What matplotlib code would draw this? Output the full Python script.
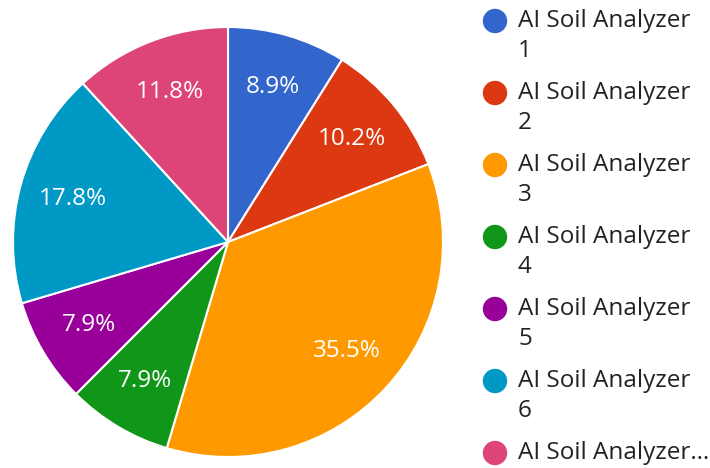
import matplotlib
matplotlib.use("Agg")
import matplotlib.pyplot as plt
from matplotlib.patches import Circle

plt.rcParams['font.family'] = ['Open Sans', 'DejaVu Sans']

# Chart data
labels = ['AI Soil Analyzer 1', 'AI Soil Analyzer 2', 'AI Soil Analyzer 3',
          'AI Soil Analyzer 4', 'AI Soil Analyzer 5', 'AI Soil Analyzer 6',
          'AI Soil Analyzer 7']
legend_text = ['AI Soil Analyzer\n1', 'AI Soil Analyzer\n2', 'AI Soil Analyzer\n3',
               'AI Soil Analyzer\n4', 'AI Soil Analyzer\n5', 'AI Soil Analyzer\n6',
               'AI Soil Analyzer\u2026']
shares = [8.9, 10.2, 35.5, 7.9, 7.9, 17.8, 11.8]
colors = ['#3366cc', '#dc3912', '#ff9900', '#109618', '#990099', '#0099c6', '#dd4477']

W, H = 710, 468
fig = plt.figure(figsize=(W / 100, H / 100), dpi=100)

# pie axes: centre (228, 242), radius 215 px
ax = fig.add_axes([13 / W, (H - 457) / H, 430 / W, 430 / H])
wedges, texts, autotexts = ax.pie(
    shares, colors=colors, startangle=90, counterclock=False,
    autopct='%1.1f%%', pctdistance=0.75,
    wedgeprops=dict(edgecolor='white', linewidth=1.5),
    textprops=dict(color='white', fontsize=17.5))
ax.set_xlim(-1, 1)
ax.set_ylim(-1, 1)
ax.set_aspect('equal')

# legend drawn by hand so the dot lines up with the first text line
lax = fig.add_axes([0, 0, 1, 1], facecolor='none')
lax.set_xlim(0, W)
lax.set_ylim(H, 0)
lax.axis('off')
y0, step = 21, 72
for i, (txt, c) in enumerate(zip(legend_text, colors)):
    y = y0 + i * step
    lax.add_patch(Circle((495, y), 11.5, color=c))
    lax.text(518, y - 12, txt, fontsize=17.5, color='#222222', va='top',
             ha='left', linespacing=1.31)

fig.savefig('out.png', dpi=100)
